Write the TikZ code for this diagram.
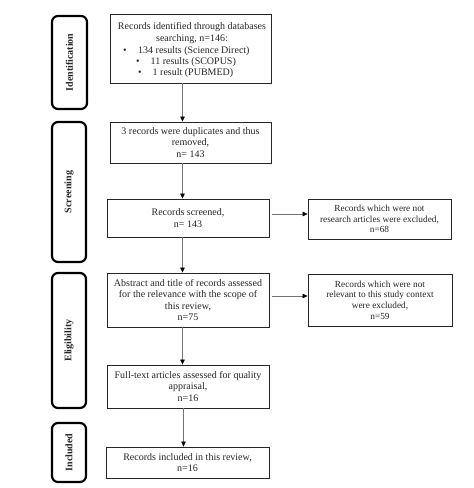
\documentclass[tikz,border=0pt]{standalone}
\usepackage{fontspec}
\setmainfont{Liberation Serif}
\usetikzlibrary{arrows.meta}
\begin{document}
\begin{tikzpicture}[x=1pt,y=-1pt,
  box/.style={draw=black!85,line width=0.9pt,inner sep=0pt,align=center,
    font=\fontsize{10}{11.6}\selectfont,text=black!85},
  rbox/.style={box,font=\fontsize{9.3}{10.7}\selectfont},
  phase/.style={draw=black,line width=2.2pt,rounded corners=6pt,inner sep=0pt},
  plabel/.style={rotate=90,inner sep=0pt,font=\fontsize{10}{11}\selectfont\bfseries,text=black!85},
  txt/.style={inner sep=0pt,font=\fontsize{10}{11.6}\selectfont,text=black!85},
  arr/.style={draw=black!55,line width=0.6pt,-{Triangle[length=5pt,width=4.5pt,black]}}]
\useasboundingbox[fill=white] (0,0) rectangle (474,488);
% phase boxes
\node[phase,minimum width=35pt,minimum height=93pt] (pid) at (69.5,62.5) {};
\node[plabel] (lid) at (pid.center) {Identification};
\node[phase,minimum width=34pt,minimum height=140pt] (pscr) at (69,192) {};
\node[plabel] (lscr) at (pscr.center) {Screening};
\node[phase,minimum width=34pt,minimum height=135pt] (pel) at (69,340.5) {};
\node[plabel] (lel) at (pel.center) {Eligibility};
\node[phase,minimum width=34pt,minimum height=59pt] (pin) at (69,452.5) {};
\node[plabel] (lin) at (pin.center) {Included};
% main boxes
\node[box,minimum width=161pt,minimum height=69pt] (b1) at (190.5,48.5) {};
\node[txt,align=center] (b1t) at (192,33) {Records identified through databases\\searching, n=146:};
\node[txt,anchor=west] (b1a) at (123,51.5) {\textbullet\hspace{11.5pt}134 results (Science Direct)};
\node[txt,anchor=west] (b1b) at (136,62.5) {\textbullet\hspace{11pt}11 results (SCOPUS)};
\node[txt,anchor=west] (b1c) at (138,73) {\textbullet\hspace{11pt}1 result (PUBMED)};
\node[box,minimum width=161pt,minimum height=41pt] (b2) at (190.5,142.5) {3 records were duplicates and thus\\removed,\\n= 143};
\node[box,minimum width=162pt,minimum height=38pt] (b3) at (188,218) {Records screened,\\n= 143};
\node[rbox,minimum width=143pt,minimum height=40pt] (r1) at (379.5,219) {Records which were not\\research articles were excluded,\\n=68};
\node[box,minimum width=162pt,minimum height=54pt] (b4) at (188,300) {Abstract and title of records assessed\\for the relevance with the scope of\\this review,\\n=75};
\node[rbox,minimum width=144pt,minimum height=52pt] (r2) at (380,300) {Records which were not\\relevant to this study context\\were excluded,\\n=59};
\node[box,minimum width=162pt,minimum height=43pt] (b5) at (188,386.5) {Full-text articles assessed for quality\\appraisal,\\n=16};
\node[box,minimum width=163pt,minimum height=31pt] (b6) at (187.5,462.5) {Records included in this review,\\n=16};
% connectors
\coordinate (s1) at (272,214);
\coordinate (s2) at (272,296);
\draw[arr] (b1.south -| 182.5,0) -- (b2.north -| 182.5,0);
\draw[arr] (b2.south -| 182.5,0) -- (b3.north -| 182.5,0);
\draw[arr] (b3.south -| 182.5,0) -- (b4.north -| 182.5,0);
\draw[arr] (b4.south -| 182.5,0) -- (b5.north -| 182.5,0);
\draw[arr] (b5.south -| 183.5,0) -- (b6.north -| 183.5,0);
\draw[arr] (s1) -- (s1 -| r1.west);
\draw[arr] (s2) -- (s2 -| r2.west);
\end{tikzpicture}
\end{document}
